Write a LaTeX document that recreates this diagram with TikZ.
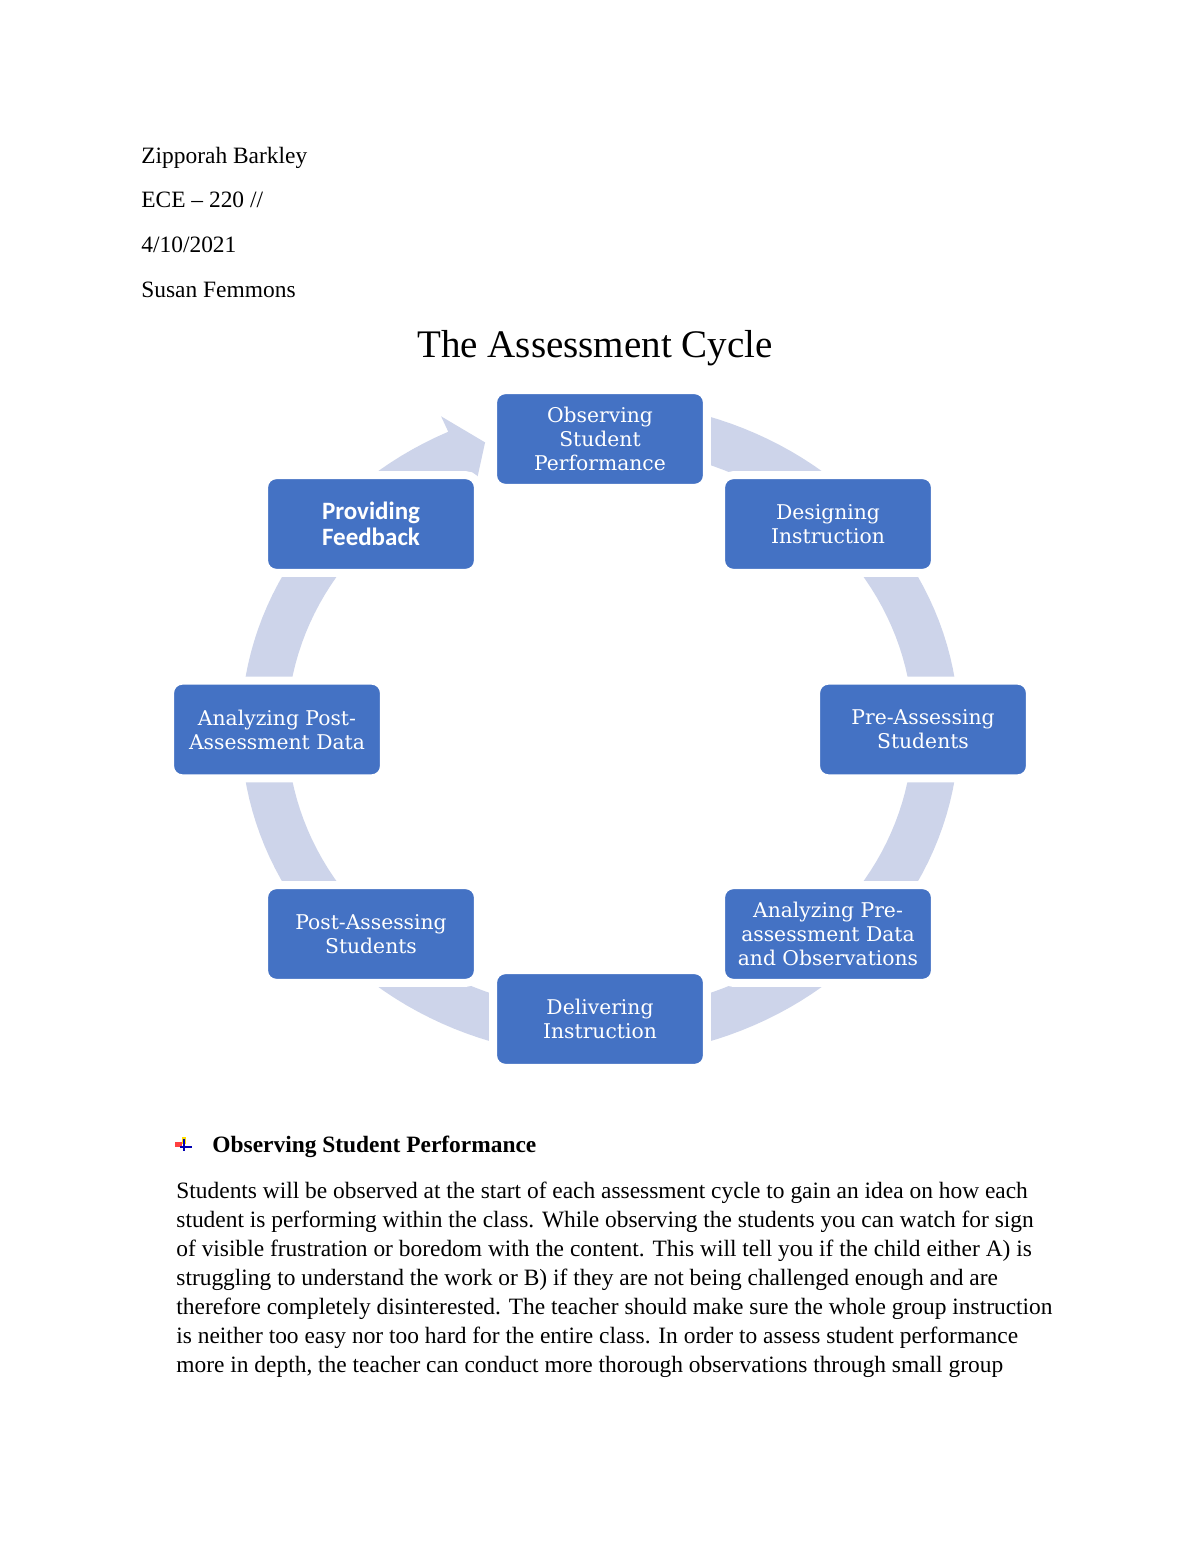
\documentclass[tikz,border=0pt]{standalone}
\usepackage{fontspec}
\setmainfont{Liberation Serif}
\newfontfamily\boxfont{DejaVu Serif}
\newfontfamily\feedfont{Carlito}
\usetikzlibrary{positioning}
\definecolor{boxblue}{RGB}{68,114,196}
\definecolor{ringgray}{RGB}{205,212,234}

\begin{document}
\begin{tikzpicture}[x=0.018cm,y=-0.018cm,
    cyclebox/.style={draw=white,line width=0.144cm,fill=boxblue,rounded corners=0.22cm,
      minimum width=3.85cm,minimum height=1.76cm,inner sep=0pt,align=center,text=white,
      font=\boxfont\fontsize{10.4}{12.3}\selectfont},
    bodytext/.style={anchor=base west,inner sep=0pt,font=\fontsize{12}{14.8}\selectfont}]
    \useasboundingbox[fill=white] (0,0) rectangle (1200,1553);

    % header lines
    \foreach \ln [count=\i from 0] in {{Zipporah Barkley},{ECE \textendash\ 220 //},{4/10/2021},{Susan Femmons}}{
      \node[bodytext] (head\i) at (141,{163+44.7*\i}) {\ln};
    }
    \node[anchor=base,inner sep=0pt,font=\fontsize{20}{24}\selectfont] (title) at (595,357) {The Assessment Cycle};

    % ring arrow behind the boxes
    \fill[ringgray] plot[domain=75:-245,samples=150] ({600+359*cos(\x)},{729-328*sin(\x)})
      -- ({600+376*cos(-245)},{729-345*sin(-245)})
      -- ({600+336*cos(-250)},{729-305*sin(-250)})
      -- ({600+296*cos(-245)},{729-265*sin(-245)})
      -- plot[domain=-245:75,samples=150] ({600+313*cos(\x)},{729-282*sin(\x)}) -- cycle;

    % the eight steps
    \node[cyclebox] (obs) at (600,439) {Observing\\Student\\Performance};
    \node[cyclebox] (design) at (828,524) {Designing\\Instruction};
    \node[cyclebox] (preassess) at (923,729.5) {Pre-Assessing\\Students};
    \node[cyclebox] (anapre) at (828,934) {Analyzing Pre-\\assessment Data\\and Observations};
    \node[cyclebox] (deliver) at (600,1019) {Delivering\\Instruction};
    \node[cyclebox] (postassess) at (371,934) {Post-Assessing\\Students};
    \node[cyclebox] (anapost) at (277,729.5) {Analyzing Post-\\Assessment Data};
    \node[cyclebox,font=\feedfont\bfseries\fontsize{12.8}{13}\selectfont] (feedback) at (371,524) {Providing\\Feedback};

    % bullet and heading
    \fill[red!75!white] (175,1142) rectangle (182,1147);
    \fill[yellow!80!orange] (182,1137) rectangle (186,1144);
    \draw[blue!70!black,line width=0.04cm] (184,1139) -- (184,1151) (180,1147) -- (192,1147);
    \node[bodytext,font=\bfseries\fontsize{12}{14.8}\selectfont] (heading) at (212,1152) {Observing Student Performance};

    % paragraph
    \foreach \ln [count=\i from 0] in {
      {Students will be observed at the start of each assessment cycle to gain an idea on how each},
      {student is performing within the class. While observing the students you can watch for sign},
      {of visible frustration or boredom with the content. This will tell you if the child either A) is},
      {struggling to understand the work or B) if they are not being challenged enough and are},
      {therefore completely disinterested. The teacher should make sure the whole group instruction},
      {is neither too easy nor too hard for the entire class. In order to assess student performance},
      {more in depth, the teacher can conduct more thorough observations through small group}}{
      \node[bodytext] (para\i) at (176,{1198+29*\i}) {\ln};
    }
\end{tikzpicture}
\end{document}
